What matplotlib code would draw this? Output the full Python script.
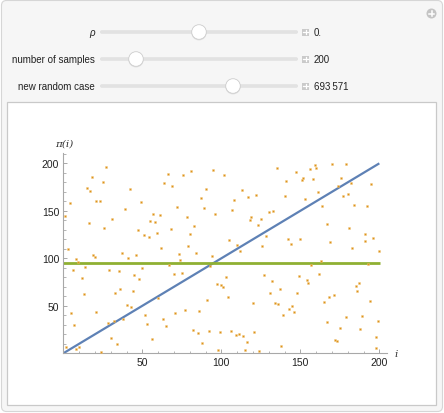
import matplotlib
matplotlib.use('Agg')
import matplotlib.pyplot as plt
from matplotlib.patches import FancyBboxPatch, Circle, Rectangle
from matplotlib.ticker import MultipleLocator

plt.rcParams['font.family'] = ['Liberation Sans', 'DejaVu Sans']

# sample index i and permuted value pi(i)
idx = [27, 18, 66, 25, 64, 15, 17, 42, 4, 21, 23, 49, 39, 1, 57, 61, 31, 55, 58, 16,
       26, 47, 68, 51, 54, 59, 3, 62, 19, 37, 46,
       8, 20, 41, 9, 67, 6, 14, 29, 35, 50, 12, 45, 48, 13, 33, 36, 44, 60, 40,
       43, 5, 21, 52, 63, 7, 28, 32, 38, 53, 65, 30, 34, 56, 2, 8, 10, 24,
       76, 81, 95, 102, 69, 90, 87, 113, 108, 117, 122, 72, 89, 107, 96, 130, 133, 78,
       119, 118, 125, 123, 83, 80, 105, 110, 128, 126, 79, 84, 73, 94, 112,
       135, 159, 170, 179, 147, 156, 160, 141, 152, 151, 158, 176, 174, 182, 195, 140,
       161, 180, 177, 153, 164, 184, 192, 167, 181, 191, 142, 150, 144, 169, 196, 191,
       183, 200,
       74, 93, 70, 75, 103, 127, 132, 97, 100, 101, 131, 104, 91, 120, 134, 77, 86,
       71, 82, 92, 99, 106, 85, 109, 111, 114, 121, 88, 116, 115, 98, 124,
       163, 157, 193, 149, 162, 154, 155, 137, 187, 185, 186, 148, 168, 171, 165, 194,
       136, 145, 143, 146, 139, 179, 189, 199, 167, 175, 188, 172, 173, 198, 138, 198]
perm = [196, 186, 189, 180, 179, 174, 171, 173, 158, 160, 160, 159, 152, 145, 147, 146, 141, 139, 138, 137,
        132, 130, 131, 125, 122, 127, 110, 111, 104, 106, 103,
        99, 101, 100, 96, 93, 88, 91, 88, 87, 90, 79, 82, 78, 62, 63, 68, 66, 58, 51,
        49, 42, 44, 40, 36, 30, 32, 34, 36, 31, 29, 16, 10, 15, 7, 5, 7, 1,
        188, 192, 193, 188, 176, 173, 164, 172, 161, 165, 167, 154, 153, 151, 147, 149, 150, 144,
        143, 140, 141, 135, 134, 126, 119, 114, 124, 113, 113, 106, 105, 102, 108,
        195, 198, 199, 199, 191, 194, 195, 181, 185, 182, 184, 185, 176, 179, 178, 166,
        170, 168, 166, 162, 155, 156, 155, 136, 132, 126, 120, 120, 115, 117, 121, 118,
        111, 108,
        98, 92, 84, 85, 80, 82, 76, 73, 72, 70, 63, 59, 56, 53, 53, 46, 45,
        42, 25, 24, 22, 24, 21, 19, 20, 18, 22, 11, 12, 4, 3, 2,
        97, 93, 94, 81, 84, 77, 74, 68, 74, 71, 66, 64, 59, 61, 54, 55,
        52, 50, 47, 44, 40, 38, 39, 34, 33, 27, 26, 14, 13, 17, 8, 6]

diag_x = [0, 200]
diag_y = [0, 200]
fit_level = 95
x_ticks = [50, 100, 150, 200]
y_ticks = [50, 100, 150, 200]

controls = [
    ('ρ', '0.', 199),
    ('number of samples', '200', 136),
    ('new random case', '693\u2009571', 233),
]

W, H = 444, 414
fig = plt.figure(figsize=(W / 100, H / 100), dpi=100)
fig.patch.set_facecolor('white')

# background (panel, sliders) drawn in pixel coordinates
bg = fig.add_axes([0, 0, 1, 1], zorder=0)
bg.set_xlim(0, W)
bg.set_ylim(H, 0)
bg.axis('off')

bg.add_patch(FancyBboxPatch((1.5, 1.5), W - 3, H - 3, boxstyle='round,pad=0,rounding_size=5',
                            fc='#F6F6F6', ec='#D6D6D6', lw=0.8))
bg.add_patch(Rectangle((6.7, 103.3), 429.3, 302.4, fc='white', ec='#C9C9C9', lw=0.9))

# top-right plus icon
bg.add_patch(Circle((431.5, 14.5), 5, fc='#C4C4C4', ec='none'))
bg.plot([428.8, 434.2], [14.5, 14.5], color='white', lw=1.1)
bg.plot([431.5, 431.5], [11.8, 17.2], color='white', lw=1.1)

for k, (label, value, knob) in enumerate(controls):
    yc = 33 + 27 * k
    bg.text(95, yc, label, ha='right', va='center', fontsize=7.0, color='#222222',
            style='italic' if k == 0 else 'normal')
    bg.add_patch(FancyBboxPatch((100, yc - 1.8), 198, 3.6, boxstyle='round,pad=0,rounding_size=1.8',
                                fc='#E2E2E2', ec='none'))
    bg.add_patch(Circle((knob, yc + 0.8), 7.6, fc='#D0D0D0', ec='none', alpha=0.6))
    bg.add_patch(Circle((knob, yc), 7.3, fc='white', ec='#CDCDCD', lw=0.6))
    bg.add_patch(Rectangle((302, yc - 3.5), 7, 7, fc='#CACACA', ec='none'))
    bg.plot([303.3, 307.7], [yc, yc], color='white', lw=0.9)
    bg.plot([305.5, 305.5], [yc - 2.2, yc + 2.2], color='white', lw=0.9)
    bg.text(314, yc, value, ha='left', va='center', fontsize=7.0, color='#222222')

# main plot
ax = fig.add_axes([63.3 / W, 1 - 354.3 / H, 323.3 / W, 200.4 / H], zorder=1)
ax.patch.set_alpha(0)
ax.set_xlim(0, 204.6)
ax.set_ylim(0, 211)

ax.plot(diag_x, diag_y, color='#5E81B5', lw=1.6, solid_capstyle='butt', zorder=2)
ax.plot([0, 200.5], [fit_level, fit_level], color='#8FB032', lw=2.0, solid_capstyle='butt', zorder=2)
ax.plot(idx, perm, ls='none', marker='s', ms=2.1, mfc='#DD9219',
        mec=(0.95, 0.78, 0.50, 0.55), mew=0.5, zorder=3, clip_on=False)

for s in ['top', 'right']:
    ax.spines[s].set_visible(False)
for s in ['left', 'bottom']:
    ax.spines[s].set_color('#A8A8A8')
    ax.spines[s].set_linewidth(0.8)

ax.set_xticks(x_ticks)
ax.set_yticks(y_ticks)
ax.xaxis.set_minor_locator(MultipleLocator(10))
ax.yaxis.set_minor_locator(MultipleLocator(10))
ax.tick_params(which='major', direction='in', length=3.2, width=0.7, color='#A8A8A8',
               labelsize=7.5, labelcolor='#222222', pad=3)
ax.tick_params(which='minor', direction='in', length=1.8, width=0.6, color='#A8A8A8')

fig.text(64 / W, 1 - 144.5 / H, 'π(i)', ha='center', va='center', fontsize=7.5,
         style='italic', color='#333333', family=['DejaVu Serif', 'DejaVu Sans'])
fig.text(396 / W, 1 - 355 / H, 'i', ha='center', va='center', fontsize=7.5,
         style='italic', color='#333333', family=['DejaVu Serif', 'DejaVu Sans'])

fig.savefig('out.png', dpi=100)
